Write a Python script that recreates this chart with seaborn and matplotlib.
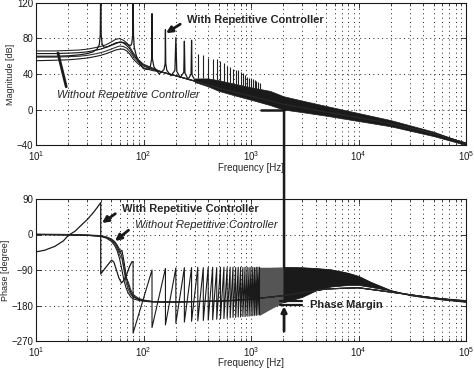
import numpy as np
import pandas as pd
import matplotlib
matplotlib.use("Agg")
import matplotlib.pyplot as plt
import seaborn as sns
from matplotlib.patches import ConnectionPatch
from matplotlib.ticker import LogLocator, NullFormatter

# ------------------------------------------------------------------ data
# --- magnitude, family of curves WITHOUT repetitive controller
fam_low_hz = [10, 15, 20, 25, 30, 35, 40, 45, 50, 55, 60, 65, 70, 75, 80, 90, 100, 120]
mag_without_a = [55, 55.5, 56, 57, 58, 59.5, 61, 63, 65, 67, 68, 68, 66, 62, 57, 51, 47, 44]
mag_without_b = [59, 59, 59.5, 60, 61, 62.5, 64, 66, 68, 70, 71.5, 71, 69, 65, 60, 53, 49, 45]
mag_without_c = [63, 63, 63.5, 64, 65, 66.5, 68, 70, 72.5, 75, 76, 75, 72, 68, 62, 55, 50, 46]
mag_without_d = [66, 66, 66.5, 67, 68, 69.5, 71, 73, 76, 79, 80, 78, 75, 70, 64, 56, 51, 47]
fam_tail_hz = [150, 200, 300, 500, 1000, 2000, 5000, 10000, 20000, 50000, 100000]
mag_without_tail = [42, 38, 32, 24, 15, 6, -3, -9, -16, -27, -38]

# --- magnitude WITH repetitive controller (low-frequency part, resolved peaks)
rc_mag_hz = [10, 15, 20, 25, 30, 34, 37, 38.8, 39.6, 40, 40.4, 41.2, 43, 47, 52, 57, 62, 67,
             72, 76, 78, 79.3, 80, 80.7, 82, 86, 92, 100, 110, 116, 119, 120, 121, 125, 140,
             155, 159, 160, 161, 165, 180, 196, 200, 204, 220, 237, 240, 243, 260, 277, 280,
             283, 300]
rc_mag_db = [60, 60, 60.5, 61.5, 63, 65, 68, 73, 84, 140, 84, 74, 70, 71, 73, 75, 76, 75,
             73, 72, 75, 84, 140, 84, 70, 60, 52, 46, 45, 49, 57, 108, 57, 48, 40,
             45, 52, 90, 52, 44, 38, 44, 81, 43, 36, 42, 77, 41, 34, 40, 78,
             39, 33]
# harmonic peaks of the repetitive controller (dense part)
spike_hz = [320, 360, 400, 440, 480, 520, 560, 600, 640, 680, 720, 760, 800, 840, 880, 920,
            960, 1000, 1040, 1080, 1120, 1160, 1200]
spike_top_db = [63, 61, 58, 57, 57, 55, 52, 49, 48, 46, 45, 44, 42, 41, 39, 37,
                36, 35, 34, 33, 32, 31, 30]
spike_base_db = [36, 35, 34, 33, 32, 31, 30, 29.5, 29, 28, 27.5, 27, 26.5, 26, 25.5, 25,
                 24.5, 24, 23.5, 23, 22.5, 22, 21.5]
# envelope of the unresolved oscillation band
mag_band_hz = [300, 400, 500, 700, 1000, 1500, 2000, 3000, 5000, 10000, 20000, 50000, 100000]
mag_band_hi = [35, 35, 33, 29, 25, 21, 15, 10, 4, -4, -12, -25, -38]
mag_band_lo = [31, 26, 21, 16, 11, 5, 0, -3, -7, -13, -19, -30, -40]

# --- phase, family WITHOUT repetitive controller
ph_low_hz = [10, 20, 30, 40, 45, 50, 54, 57, 60, 63, 66, 69, 72, 76, 80, 90, 100, 120]
ph_without_a = [0, -1, -2, -5, -9, -17, -28, -42, -62, -90, -118, -136, -148, -158, -163, -167, -169, -171]
ph_without_b = [0, -1, -2, -4, -7, -14, -24, -36, -52, -60, -92, -122, -138, -152, -158, -165, -168, -170]
ph_without_c = [0, -1, -2, -4, -7, -12, -20, -30, -45, -40, -70, -105, -128, -146, -156, -164, -167, -170]
ph_without_d = [1, 0, -1, -3, -6, -11, -18, -27, -38, -55, -85, -112, -120, -140, -152, -162, -166, -170]
ph_tail_hz = [150, 200, 300, 500, 700, 1000, 2000, 5000, 10000, 20000, 50000, 100000]
ph_without_tail = [-171, -171, -170, -169, -167, -164, -155, -138, -135, -146, -161, -170]

# --- phase WITH repetitive controller
rc_ph_hz = [10, 12, 15, 18, 20, 23, 26, 30, 34, 37, 40, 40, 45, 50.5, 53, 56, 59, 62.5, 66, 70, 74, 78, 80]
rc_ph_deg = [-44, -40, -30, -16, -2, 8, 22, 38, 55, 68, 81, -100, -82, -65, -70, -90, -110, -123, -115, -100, -82, -69, -69]
saw_hz = [80, 120, 160, 200, 240, 280, 320, 360, 400, 440, 480, 520, 560, 600, 640, 680, 720,
          760, 800, 840, 880, 920, 960, 1000, 1040, 1080, 1120, 1160, 1200]
saw_top_deg = [-69, -90, -86, -85, -84, -84, -83, -84, -83, -83, -84, -83, -83, -84, -83, -83, -84,
               -83, -83, -84, -83, -83, -84, -83, -83, -84, -83, -83, -83]
saw_bottom_deg = [-250, -236, -229, -225, -222, -220, -219, -218, -217, -216, -215, -214, -213, -212,
                  -211, -210, -210, -209, -209, -208, -208, -207, -207, -206, -206, -205, -205, -204, -204]
ph_band_hz = [1200, 1500, 2000, 3000, 4000, 5500, 8000, 10000, 13000, 20000, 30000, 40000, 60000, 100000]
ph_band_hi = [-83, -83, -82, -83, -85, -88, -97, -105, -120, -141, -152, -156, -161, -166]
ph_band_lo = [-205, -190, -172, -158, -142, -132, -128, -128, -133, -142, -154, -159, -165, -171]

crossover_hz = 2030
pm_lines_deg = [-168, -178]

mag_ticks = [-40, 0, 40, 80, 120]
ph_ticks = [-270, -180, -90, 0, 90]

# ------------------------------------------------------------------ figure
sns.set_theme(style="white")
plt.rcParams['font.family'] = ['Liberation Sans', 'DejaVu Sans']
plt.rcParams['mathtext.fontset'] = 'custom'
plt.rcParams['mathtext.rm'] = 'Liberation Sans'
plt.rcParams['mathtext.it'] = 'Liberation Sans:italic'
plt.rcParams['mathtext.bf'] = 'Liberation Sans:bold'
plt.rcParams['axes.unicode_minus'] = True

fig = plt.figure(figsize=(4.74, 3.70), dpi=100)
ax1 = fig.add_axes([36 / 474, 1 - 145 / 370, 430 / 474, 142 / 370])
ax2 = fig.add_axes([36 / 474, 1 - 341 / 370, 430 / 474, 142 / 370])


def style_axes(ax, ticks):
    ax.set_xscale('log')
    ax.set_xlim(10, 1e5)
    ax.set_ylim(ticks[0], ticks[-1])
    ax.set_yticks(ticks)
    ax.xaxis.set_major_locator(LogLocator(base=10, numticks=10))
    ax.xaxis.set_minor_locator(LogLocator(base=10, subs=np.arange(2, 10), numticks=10))
    ax.xaxis.set_minor_formatter(NullFormatter())
    ax.set_axisbelow(True)
    ax.tick_params(which='both', direction='in', top=True, right=True, bottom=True, left=True,
                   labelsize=7, colors='k', pad=2)
    ax.tick_params(axis='x', which='major', pad=3)
    ax.tick_params(which='major', length=3.5, width=0.6)
    ax.tick_params(which='minor', length=2, width=0.5)
    ax.grid(True, which='major', axis='both', linestyle=(0, (1, 3.5)), color='#222', lw=0.7)
    ax.grid(True, which='minor', axis='x', linestyle=(0, (1, 3.5)), color='#222', lw=0.7)
    for s in ax.spines.values():
        s.set_visible(True)
        s.set_color('k')
        s.set_linewidth(0.8)


style_axes(ax1, mag_ticks)
style_axes(ax2, ph_ticks)

# --- family curves (long form)
rows = []
for name, low in [('a', mag_without_a), ('b', mag_without_b), ('c', mag_without_c), ('d', mag_without_d)]:
    for f, v in zip(fam_low_hz + fam_tail_hz, low + mag_without_tail):
        rows.append((name, f, v))
mag_df = pd.DataFrame(rows, columns=['curve', 'hz', 'db'])

rows = []
for name, low in [('a', ph_without_a), ('b', ph_without_b), ('c', ph_without_c), ('d', ph_without_d)]:
    for f, v in zip(ph_low_hz + ph_tail_hz, low + ph_without_tail):
        rows.append((name, f, v))
ph_df = pd.DataFrame(rows, columns=['curve', 'hz', 'deg'])

pal = {'a': '#1a1a1a', 'b': '#333333', 'c': '#111111', 'd': '#2a2a2a'}
sns.lineplot(data=mag_df, x='hz', y='db', hue='curve', palette=pal, lw=0.8,
             legend=False, ax=ax1, estimator=None, sort=False)
sns.lineplot(data=ph_df, x='hz', y='deg', hue='curve', palette=pal, lw=0.8,
             legend=False, ax=ax2, estimator=None, sort=False)

# --- magnitude with RC
sns.lineplot(x=rc_mag_hz, y=rc_mag_db, color='k', lw=0.9, ax=ax1, estimator=None, sort=False)
ax1.vlines(spike_hz, spike_base_db, spike_top_db, color='#222', lw=0.8)
ax1.fill_between(mag_band_hz, mag_band_lo, mag_band_hi, color='k', lw=0.5)

# --- phase with RC
sns.lineplot(x=rc_ph_hz, y=rc_ph_deg, color='k', lw=0.9, ax=ax2, estimator=None, sort=False)
saw_x, saw_y = [], []
for h, t, b in zip(saw_hz, saw_top_deg, saw_bottom_deg):
    saw_x += [h, h]
    saw_y += [t, b]
sns.lineplot(x=saw_x, y=saw_y, color='k', lw=0.8, ax=ax2, estimator=None, sort=False)
ph_band_hz_arr = np.array(ph_band_hz)
ax2.fill_between(ph_band_hz, ph_band_lo, ph_band_hi, color='#555555', lw=0)
ax2.fill_between(ph_band_hz, ph_band_lo, ph_band_hi, where=ph_band_hz_arr >= 2000,
                 color='k', lw=0.5)

# restore limits (seaborn may autoscale)
ax1.set_xlim(10, 1e5); ax1.set_ylim(-40, 120)
ax2.set_xlim(10, 1e5); ax2.set_ylim(-270, 90)
ax1.set_ylabel('Magnitude [dB]', fontsize=6.5, labelpad=1)
ax2.set_ylabel('Phase [degree]', fontsize=6.5, labelpad=1)
ax1.set_xlabel('Frequency [Hz]', fontsize=7, labelpad=0)
ax2.set_xlabel('Frequency [Hz]', fontsize=7, labelpad=-0.5)

# ------------------------------------------------------------------ annotations
arrow = dict(arrowstyle='-|>', lw=2, color='k', mutation_scale=9, shrinkA=3, shrinkB=0,
             relpos=(0.0, 0.5))
ax1.annotate('With Repetitive Controller', xy=(162, 86), xytext=(254, 101),
             fontsize=8, fontweight='bold', va='center', ha='left', arrowprops=arrow)
ax1.annotate('Without Repetitive Controller', xy=(16.0, 63.7), xytext=(15.7, 16.3),
             fontsize=8, fontstyle='italic', va='center', ha='left',
             arrowprops=dict(arrowstyle='-', lw=2, color='k', shrinkA=0, shrinkB=0,
                             relpos=(0.07, 1.0)))
ax1.plot([1239, crossover_hz], [0, 0], color='k', lw=1.8)

ax2.annotate('With Repetitive Controller', xy=(41.1, 29), xytext=(63.1, 64.6),
             fontsize=8, fontweight='bold', va='center', ha='left', arrowprops=arrow)
ax2.annotate('Without Repetitive Controller', xy=(54.3, -16.6), xytext=(83.4, 24),
             fontsize=8, fontstyle='italic', va='center', ha='left', arrowprops=arrow)
for d in pm_lines_deg:
    ax2.plot([1862, 2980], [d, d], color='k', lw=1.6)
ax2.annotate('', xy=(crossover_hz, -182), xytext=(crossover_hz, -245),
             arrowprops=dict(arrowstyle='-|>', lw=2, color='k', mutation_scale=8,
                             shrinkA=0, shrinkB=0))
ax2.text(3540, -179, 'Phase Margin', fontsize=8, fontweight='bold', va='center', ha='left')

con = ConnectionPatch(xyA=(crossover_hz, 0), coordsA=ax1.transData,
                      xyB=(crossover_hz, -83), coordsB=ax2.transData,
                      color='k', lw=1.8)
fig.add_artist(con)

fig.savefig('out.png', dpi=100)
